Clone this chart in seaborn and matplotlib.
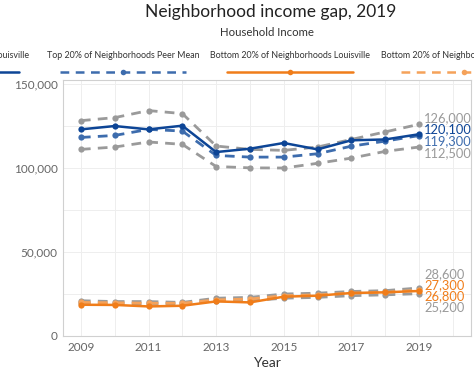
import numpy as np
import pandas as pd
import seaborn as sns
from matplotlib import pyplot as plt
from matplotlib.lines import Line2D
from matplotlib.ticker import FuncFormatter, MultipleLocator

years = list(range(2009, 2020))

# top 20% of neighborhoods
top_lou = [123000, 125000, 123000, 125200, 109500, 111500, 114900, 111100, 116500, 117000, 120100]
top_peer = [118200, 119400, 123000, 122000, 107500, 106500, 106500, 108500, 113000, 116000, 119300]
top_peer_hi = [128200, 130000, 134200, 132400, 113100, 111100, 110500, 112500, 117000, 121500, 126000]
top_peer_lo = [111100, 112500, 115500, 114100, 100900, 100100, 100000, 102800, 105900, 109900, 112500]

# bottom 20% of neighborhoods
bot_lou = [18600, 18500, 17600, 18000, 20600, 20000, 23400, 24000, 25600, 26000, 26800]
bot_peer = [20000, 19800, 19500, 19500, 21500, 22000, 24000, 24500, 25500, 26000, 27300]
bot_peer_hi = [21000, 20500, 20500, 20000, 22500, 23000, 25000, 25500, 26500, 27000, 28600]
bot_peer_lo = [19500, 19000, 19000, 19000, 21000, 21000, 22500, 23000, 24000, 24500, 25200]

legend_names = ["Top 20% of Neighborhoods Louisville",
                "Top 20% of Neighborhoods Peer Mean",
                "Bottom 20% of Neighborhoods Louisville",
                "Bottom 20% of Neighborhoods Peer Mean"]

blue = "#0d4596"
blue2 = "#3d6cad"
orange = "#f07d1a"
orange2 = "#f5a25a"
gray = "#9a9a9a"

sns.set_style("white")
plt.rcParams['font.family'] = ['Lato', 'DejaVu Sans']

fig = plt.figure(figsize=(4.74, 3.79), dpi=100)
ax = fig.add_axes([63 / 474, 1 - 336 / 379, 408 / 474, 256 / 379])

dash = (3.5, 2.6)
series = [
    (top_peer_hi, gray, dash, 2.0),
    (top_peer_lo, gray, dash, 2.0),
    (bot_peer_hi, gray, dash, 2.0),
    (bot_peer_lo, gray, dash, 2.0),
    (top_peer, blue2, dash, 2.0),
    (bot_peer, orange2, dash, 2.0),
    (top_lou, blue, None, 1.8),
    (bot_lou, orange, None, 1.8),
]
for vals, col, ds, lw in series:
    df = pd.DataFrame({"Year": years, "value": vals})
    sns.lineplot(data=df, x="Year", y="value", ax=ax, color=col, lw=lw,
                 marker="o", markersize=4.5, markeredgewidth=0)
    if ds:
        ax.lines[-1].set_dashes(ds)

# end labels, stacked
def end_labels(items, step):
    vals = [v for v, c in items]
    mid = np.mean(vals)
    n = len(items)
    for i, (v, c) in enumerate(items):
        y = mid + ((n - 1) / 2 - i) * step
        ax.text(2019.15, y, f"{v:,}", color=c, fontsize=9.3, va="center", ha="left")

end_labels([(top_peer_hi[-1], gray), (top_lou[-1], blue), (top_peer[-1], blue2),
            (top_peer_lo[-1], gray)], 6900)
end_labels([(bot_peer_hi[-1], gray), (bot_peer[-1], orange), (bot_lou[-1], orange),
            (bot_peer_lo[-1], gray)], 6600)

ax.set_xlim(2008.47, 2020.54)
ax.set_ylim(0, 152400)
ax.set_xticks([2009, 2011, 2013, 2015, 2017, 2019])
ax.xaxis.set_minor_locator(MultipleLocator(1))
ax.yaxis.set_major_locator(MultipleLocator(50000))
ax.yaxis.set_minor_locator(MultipleLocator(25000))
ax.yaxis.set_major_formatter(FuncFormatter(lambda v, p: f"{int(v):,}"))
ax.grid(True, which="both", color="#eeeeee", lw=0.7)
ax.tick_params(axis="both", labelsize=8.5, labelcolor="#666666", colors="#bbbbbb")
ax.tick_params(axis="y", length=3, pad=1)
ax.tick_params(axis="x", length=0, pad=4)
ax.tick_params(which="minor", length=0)
for s in ax.spines.values():
    s.set_color("#d0d0d0")
    s.set_linewidth(0.8)
ax.set_xlabel("Year", fontsize=10, color="#333333", labelpad=3)
ax.set_ylabel("")

fig.text(271 / 474, 1 - 12 / 379, "Neighborhood income gap, 2019", ha="center", va="center",
         fontsize=12.5, color="#222222")
fig.text(267 / 474, 1 - 33 / 379, "Household Income", ha="center", va="center",
         fontsize=8.2, color="#333333")

# legend row (clipped at the figure edges)
centers = [-44, 123, 290, 464]
styles = [(blue, None), (blue2, (3.5, 2.6)), (orange, None), (orange2, (3.5, 2.6))]
for name, cx, (col, ds) in zip(legend_names, centers, styles):
    fig.text(cx / 474, 1 - 55 / 379, name, ha="center", va="center", fontsize=6.4, color="#333333")
    ly = 1 - 72 / 379
    ln = Line2D([(cx - 63) / 474, (cx + 63) / 474], [ly, ly], color=col, lw=1.8,
                transform=fig.transFigure)
    if ds:
        ln.set_dashes(ds)
    fig.add_artist(ln)
    fig.add_artist(Line2D([cx / 474], [ly], color=col, marker="o", markersize=4,
                          markeredgewidth=0, transform=fig.transFigure))

fig.savefig("out.png", dpi=100)
